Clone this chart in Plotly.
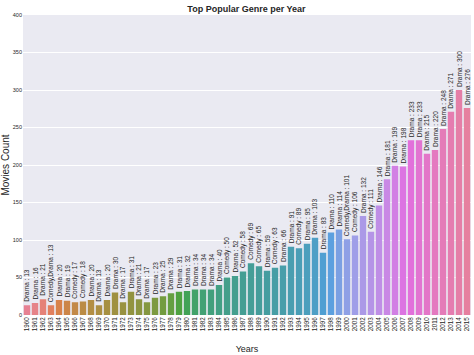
import math
import colorsys
import plotly.graph_objects as go

years = list(range(1960, 2016))
genres = ["Drama", "Drama", "Drama", "Comedy,Drama", "Drama", "Drama", "Comedy", "Comedy",
          "Drama", "Drama", "Drama", "Drama", "Drama", "Drama", "Drama", "Drama", "Drama",
          "Drama", "Drama", "Drama", "Drama", "Drama", "Drama", "Drama", "Drama", "Comedy",
          "Drama", "Comedy", "Comedy", "Comedy", "Drama", "Comedy", "Drama", "Drama", "Comedy",
          "Drama", "Drama", "Drama", "Drama", "Drama", "Comedy,Drama", "Comedy", "Drama",
          "Comedy", "Drama", "Drama", "Drama", "Drama", "Drama", "Drama", "Drama", "Drama",
          "Drama", "Drama", "Drama", "Drama"]
counts = [13, 16, 21, 13, 20, 19, 17, 18, 20, 13, 20, 30, 17, 31, 21, 17, 23, 25, 29, 31,
          32, 34, 34, 34, 40, 50, 52, 58, 69, 65, 59, 63, 66, 91, 89, 95, 103, 83, 110, 114,
          101, 106, 132, 111, 146, 181, 199, 198, 233, 233, 215, 220, 248, 271, 300, 276]
y_ticks = [0, 50, 100, 150, 200, 250, 300, 350, 400]

# --- HUSL palette (as seaborn) ---
M = [[3.2406, -1.5372, -0.4986], [-0.9689, 1.8758, 0.0415], [0.0557, -0.2040, 1.0570]]
refU, refV, kappa, eps = 0.19784, 0.46834, 903.3, 0.0088564


def max_chroma(L, H):
    hrad = math.radians(H)
    sinH, cosH = math.sin(hrad), math.cos(hrad)
    sub1 = (L + 16) ** 3 / 1560896.0
    sub2 = sub1 if sub1 > eps else L / kappa
    result = float("inf")
    for m1, m2, m3 in M:
        top = (0.99915 * m1 + 1.05122 * m2 + 1.14460 * m3) * sub2
        rb = 0.86330 * m3 - 0.17266 * m2
        lb = 0.12949 * m3 - 0.38848 * m1
        bottom = (rb * sinH + lb * cosH) * sub2
        for t in (0.0, 1.0):
            C = L * (top - 1.05122 * t) / (bottom + 0.17266 * sinH * t)
            if 0 < C < result:
                result = C
    return result


def husl_to_rgb(H, S, L):
    C = max_chroma(L, H) / 100.0 * S
    hrad = math.radians(H)
    U, V = C * math.cos(hrad), C * math.sin(hrad)
    varY = ((L + 16) / 116.0) ** 3 if L > 8 else L / kappa
    varU = U / (13 * L) + refU
    varV = V / (13 * L) + refV
    Y = varY
    X = -(9 * Y * varU) / ((varU - 4) * varV - varU * varV)
    Z = (9 * Y - 15 * varV * Y - varV * X) / (3 * varV)
    out = []
    for row in M:
        c = row[0] * X + row[1] * Y + row[2] * Z
        c = 12.92 * c if c <= 0.0031308 else 1.055 * c ** (1 / 2.4) - 0.055
        out.append(min(max(c, 0), 1))
    return out


n = len(years)
colors = []
for i in range(n):
    h = ((i / n) + 0.01) % 1 * 359
    r, g, b = husl_to_rgb(h, 0.9 * 99, 0.65 * 99)
    hh, ll, ss = colorsys.rgb_to_hls(r, g, b)
    r, g, b = colorsys.hls_to_rgb(hh, ll, ss * 0.75)
    colors.append("rgb(%d,%d,%d)" % (round(r * 255), round(g * 255), round(b * 255)))

xlabels = [str(y) for y in years]

fig = go.Figure()
fig.add_trace(go.Bar(x=xlabels, y=counts, marker=dict(color=colors, line=dict(width=0)),
                     hoverinfo="skip"))

for i, (g, c) in enumerate(zip(genres, counts)):
    fig.add_annotation(x=i, y=c, text="%s : %d" % (g, c), textangle=-90, showarrow=False,
                       xanchor="center", yanchor="bottom", yshift=1,
                       font=dict(family="Liberation Sans, Arial", size=6.5, color="#262626"))

fig.update_layout(
    width=474, height=355,
    margin=dict(l=23, r=3, t=15, b=40, autoexpand=False),
    paper_bgcolor="white", plot_bgcolor="#EAEAF2",
    bargap=0.2, showlegend=False,
    title=dict(text="<b>Top Popular Genre per Year</b>", x=0.52, xanchor="center",
               y=0.985, yanchor="top",
               font=dict(family="Liberation Sans, Arial", size=9, color="#262626")),
    font=dict(family="Liberation Sans, Arial", color="#262626"),
)
fig.update_xaxes(type="category", range=[-0.5, n - 0.5], tickangle=-90,
                 tickfont=dict(size=6.3, color="#262626"),
                 showgrid=False, ticks="", zeroline=False, automargin=False,
                 title=dict(text="Years", font=dict(size=9, color="#262626")))
fig.update_yaxes(range=[0, 400], tickvals=y_ticks, tickfont=dict(size=5.5, color="#262626"),
                 gridcolor="white", gridwidth=1, zeroline=False, ticks="", automargin=False,
                 title=dict(text="Movies Count", font=dict(size=10, color="#262626")))

fig.write_html("out.html", config={"displayModeBar": False},
               post_script="document.body.style.margin='0px';")
